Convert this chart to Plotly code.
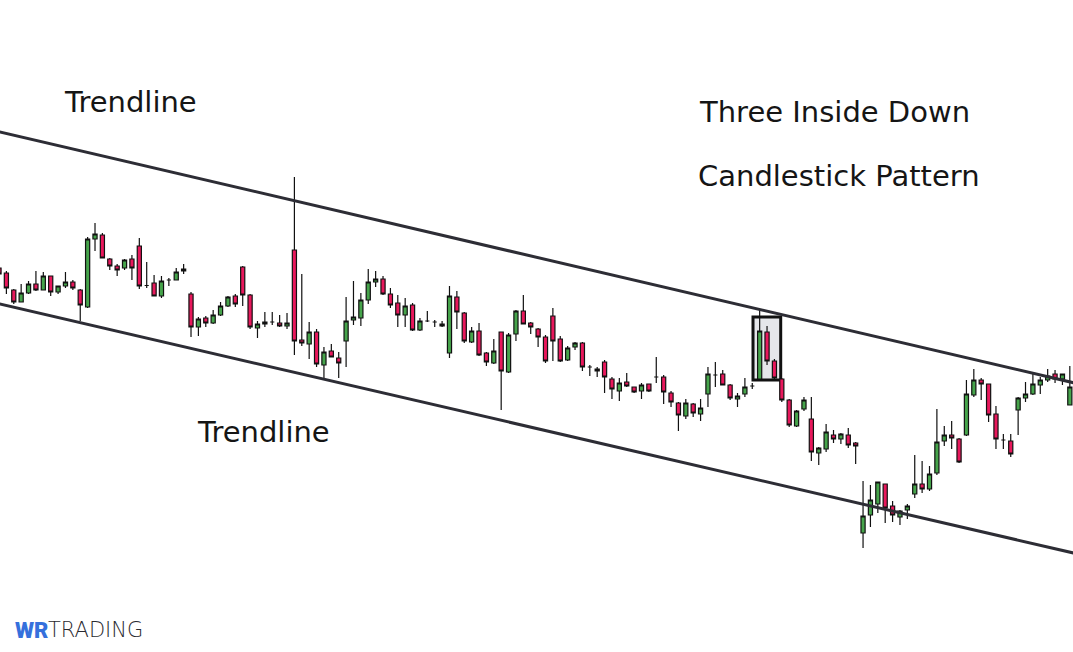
import plotly.graph_objects as go

# ---- candle data (index = bar number, prices in chart units) ----
bar_index = list(range(146))

opens = [38.2, 37.7, 36.0, 34.8, 35.7, 36.6, 36.0, 37.4, 35.8, 36.4,
         36.8, 36.0, 34.3, 41.1, 41.5, 39.1, 38.4, 38.2, 39.1, 40.4,
         36.45, 36.7, 35.4, 37.0, 37.0, 37.9, 35.6, 32.3, 33.2, 32.7,
         33.5, 34.4, 35.4, 38.3, 35.5, 32.2, 32.6, 32.8, 32.7, 32.4,
         40.0, 31.0, 30.6, 31.8, 28.5, 29.9, 29.2, 30.9, 33.0, 33.2,
         35.0, 36.8, 37.1, 35.6, 34.7, 33.5, 34.5, 32.0, 32.9, 32.8,
         32.6, 29.7, 35.3, 33.7, 30.8, 31.9, 29.7, 28.7, 31.8, 27.8,
         31.6, 33.9, 32.7, 32.1, 31.3, 33.4, 31.1, 29.0, 30.3, 30.7,
         28.3, 28.1, 28.8, 27.1, 25.9, 26.8, 26.3, 25.9, 26.6, 27.3,
         27.3, 25.7, 24.7, 23.4, 24.6, 23.6, 25.6, 27.5, 27.6, 26.5,
         25.1, 25.6, 26.4, 27.1, 31.8, 28.9, 27.1, 25.0, 22.4, 24.1,
         23.1, 19.7, 20.1, 21.5, 21.1, 21.5, 20.7, 11.7, 13.5, 14.6,
         16.6, 14.4, 13.3, 14.0, 15.6, 16.6, 16.1, 17.7, 20.9, 21.5,
         21.1, 21.5, 25.5, 27.0, 26.6, 23.6, 21.0, 20.9, 24.0, 25.2,
         25.6, 26.5, 27.0, 27.6, 27.1, 24.5]

highs = [38.4, 37.9, 36.1, 36.6, 36.9, 37.9, 37.8, 37.4, 36.4, 37.8,
         37.0, 36.1, 41.3, 42.7, 41.7, 39.2, 38.6, 39.1, 39.5, 41.2,
         38.8, 37.5, 37.4, 37.2, 38.2, 38.6, 35.8, 33.3, 33.4, 34.0,
         34.8, 35.4, 35.6, 38.4, 35.6, 32.9, 33.8, 33.8, 33.5, 33.7,
         47.3, 37.6, 32.8, 32.1, 30.3, 30.6, 29.8, 35.3, 36.9, 35.7,
         38.1, 37.9, 37.4, 36.2, 35.5, 35.2, 34.7, 33.2, 33.9, 33.0,
         32.9, 36.4, 35.9, 33.8, 32.3, 32.7, 29.8, 31.1, 31.8, 31.7,
         34.0, 35.5, 32.8, 32.2, 31.5, 34.2, 31.4, 30.4, 30.8, 30.8,
         28.5, 28.3, 29.0, 27.3, 27.2, 27.7, 26.3, 26.7, 26.6, 29.3,
         27.5, 25.9, 24.8, 25.1, 24.7, 25.1, 28.3, 28.8, 28.0, 26.6,
         25.7, 27.2, 26.7, 34.0, 32.4, 29.1, 27.2, 25.1, 24.0, 25.3,
         25.3, 20.3, 22.6, 22.0, 21.7, 22.2, 20.8, 16.9, 16.5, 16.8,
         16.6, 14.9, 14.0, 14.6, 19.5, 18.9, 18.4, 24.1, 22.4, 22.9,
         21.2, 27.0, 28.1, 27.2, 26.6, 24.4, 21.6, 21.6, 25.3, 26.8,
         27.6, 27.3, 28.1, 28.0, 27.6, 28.4]

lows = [37.3, 35.6, 34.6, 34.8, 35.6, 35.9, 36.0, 35.4, 35.6, 36.2,
        36.0, 32.9, 34.2, 39.9, 39.2, 38.0, 37.4, 38.0, 37.0, 36.1,
        36.2, 35.4, 35.2, 36.4, 37.0, 37.6, 31.3, 31.4, 32.3, 32.6,
        33.4, 34.3, 34.3, 34.4, 32.1, 31.2, 32.3, 32.5, 32.3, 32.1,
        29.5, 30.4, 29.1, 28.3, 27.0, 29.3, 27.2, 28.3, 32.5, 32.4,
        34.6, 36.3, 35.5, 34.2, 32.3, 32.3, 31.9, 31.9, 32.8, 32.3,
        32.3, 29.2, 32.1, 30.7, 30.7, 29.4, 28.4, 28.6, 24.0, 27.7,
        30.9, 32.6, 31.6, 30.3, 28.7, 28.9, 28.8, 28.9, 30.0, 27.9,
        27.4, 27.3, 25.7, 25.1, 24.9, 26.3, 25.7, 25.1, 25.8, 26.7,
        24.6, 24.3, 21.9, 23.1, 23.3, 22.9, 24.3, 26.3, 26.5, 25.0,
        24.3, 25.3, 26.1, 27.0, 28.5, 27.1, 24.8, 22.3, 22.3, 23.9,
        18.9, 18.5, 19.8, 20.7, 20.6, 20.2, 18.6, 10.2, 12.3, 13.7,
        12.7, 12.8, 12.5, 13.1, 15.2, 15.7, 15.9, 17.5, 20.4, 20.1,
        18.7, 21.4, 25.3, 25.0, 22.8, 20.1, 20.1, 19.3, 21.5, 24.8,
        25.5, 25.6, 26.8, 26.7, 26.5, 24.5]

closes = [37.6, 36.2, 34.8, 35.7, 36.6, 36.0, 37.4, 35.8, 36.4, 36.8,
          36.2, 34.5, 41.1, 41.6, 39.2, 38.4, 38.0, 39.0, 38.2, 36.4,
          36.45, 35.4, 36.9, 37.0, 37.8, 38.1, 32.3, 33.1, 32.7, 33.5,
          34.4, 35.3, 34.6, 35.5, 32.3, 32.6, 32.8, 32.8, 32.4, 32.7,
          30.9, 30.7, 31.8, 28.6, 29.8, 29.3, 28.7, 32.9, 33.3, 35.0,
          36.8, 37.1, 35.6, 34.5, 33.5, 34.4, 32.0, 32.9, 32.9, 32.8,
          32.4, 35.4, 33.8, 30.9, 31.9, 29.5, 28.8, 29.9, 27.9, 31.5,
          33.9, 32.6, 32.3, 31.3, 28.9, 30.9, 28.9, 30.2, 30.7, 28.3,
          28.3, 27.9, 27.3, 26.1, 26.7, 26.4, 25.8, 26.5, 25.9, 27.3,
          25.8, 24.8, 23.5, 24.7, 23.7, 24.2, 27.6, 27.5, 26.5, 25.2,
          25.4, 26.3, 26.4, 31.9, 28.9, 27.2, 25.0, 22.5, 23.9, 25.0,
          19.8, 20.2, 21.8, 21.1, 21.6, 20.5, 20.4, 13.4, 15.0, 16.8,
          14.2, 13.5, 13.9, 14.4, 16.6, 16.1, 17.6, 20.8, 21.5, 21.2,
          18.8, 25.6, 27.0, 26.6, 23.5, 21.1, 21.0, 19.6, 25.2, 25.6,
          26.6, 27.0, 27.4, 27.1, 27.6, 26.3]

# ---- trendlines (bar index, price) ----
trend_x = [-1, 147]
upper_trend = [52.0, 26.47]
lower_trend = [34.79, 9.44]

# ---- highlighted pattern box (bar index / price) ----
box_x = [102.1, 105.85]
box_y = [27.0, 33.3]

# ---- labels ----
label_texts = ["Trendline", "Three Inside Down", "Candlestick Pattern", "Trendline"]

GREEN = "#46a44b"
RED = "#e8185c"
LINE = "#2d2d35"

W, H = 1073, 652

fig = go.Figure()

for ys in (upper_trend, lower_trend):
    fig.add_trace(go.Scatter(x=trend_x, y=ys, mode="lines",
                             line=dict(color=LINE, width=3),
                             hoverinfo="skip", showlegend=False))

fig.add_trace(go.Candlestick(
    x=bar_index, open=opens, high=highs, low=lows, close=closes,
    increasing=dict(line=dict(color="#111111", width=1.2), fillcolor=GREEN),
    decreasing=dict(line=dict(color="#111111", width=1.2), fillcolor=RED),
    whiskerwidth=0, showlegend=False, hoverinfo="skip"))

fig.add_shape(type="rect", xref="x", yref="y",
              x0=box_x[0], x1=box_x[1], y0=box_y[0], y1=box_y[1],
              fillcolor="#e5e6ea", line=dict(color="#111111", width=3),
              layer="below")

def px(xp, yp):
    return xp / W, 1 - yp / H

label_pos = [(62, 101.7), (697, 112.3), (696, 175.7), (195, 432.3)]
for t, (xp, yp) in zip(label_texts, label_pos):
    ax, ay = px(xp, yp)
    fig.add_annotation(text=t, x=ax, y=ay, xref="paper", yref="paper",
                       xanchor="left", yanchor="middle", showarrow=False,
                       font=dict(family="DejaVu Sans", size=29, color="#151515"))

lx, ly = px(13, 630)
fig.add_annotation(text="WR", x=lx, y=ly, xref="paper", yref="paper",
                   xanchor="left", yanchor="middle", showarrow=False,
                   font=dict(family="Roboto", size=22, color="#3570dc", weight=900))
lx, ly = px(46, 630)
fig.add_annotation(text="TRADING", x=lx, y=ly, xref="paper", yref="paper",
                   xanchor="left", yanchor="middle", showarrow=False,
                   font=dict(family="DejaVu Sans", size=21, color="#2a2a30", weight=200))

fig.update_layout(
    width=W, height=H,
    margin=dict(l=0, r=0, t=0, b=0),
    paper_bgcolor="white", plot_bgcolor="white",
    xaxis=dict(range=[0.135, 145.43], visible=False,
               rangeslider=dict(visible=False), fixedrange=True),
    yaxis=dict(range=[-0.2, 65.0], visible=False, fixedrange=True),
    boxgap=0.2, showlegend=False,
)

fig.write_html("out.html", config={"displayModeBar": False},
               post_script="document.body.style.margin='0';")
